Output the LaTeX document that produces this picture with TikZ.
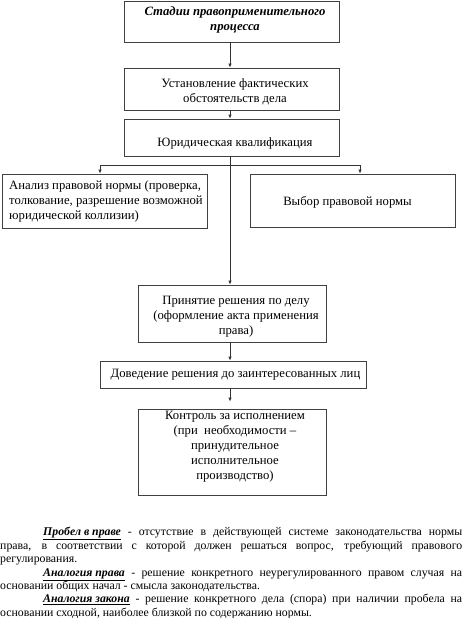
\documentclass[tikz,border=0pt]{standalone}
\usepackage{fontspec}
\setmainfont{Liberation Serif}
\usetikzlibrary{arrows.meta}
\begin{document}
\begin{tikzpicture}[x=1pt,y=-1pt,
  box/.style={draw=black!75, line width=0.8pt, inner sep=0pt, rectangle},
  btext/.style={inner sep=0pt, align=center, font=\fontsize{12.7}{15}\selectfont},
  arr/.style={draw=black!80, line width=0.8pt, -{Latex[length=4pt,width=3.5pt]}},
  ln/.style={draw=black!80, line width=0.8pt}]
\useasboundingbox (0,0) rectangle (462,618);
% boxes
\node[box, minimum width=215pt, minimum height=41pt] (b1) at (231.5,21.5) {};
\node[box, minimum width=215pt, minimum height=42pt] (b2) at (231.5,89) {};
\node[box, minimum width=215pt, minimum height=37pt] (b3) at (231.5,137.5) {};
\node[box, minimum width=205pt, minimum height=54pt] (bl) at (104.5,201) {};
\node[box, minimum width=205pt, minimum height=53pt] (br) at (352.5,200.5) {};
\node[box, minimum width=188pt, minimum height=57pt] (b4) at (232,313.5) {};
\node[box, minimum width=266pt, minimum height=27pt] (b5) at (233,374.5) {};
\node[box, minimum width=188pt, minimum height=86pt] (b6) at (232,452) {};
% texts
\node[btext, font=\fontsize{12.7}{15}\selectfont\bfseries\itshape] (t1) at (235,20) {Стадии правоприменительного\\процесса};
\node[btext] (t2) at (235,91.5) {Установление фактических\\обстоятельств дела};
\node[btext] (t3) at (235,143) {Юридическая квалификация};
\node[btext, align=left, anchor=west] (tl) at (9,201.5) {Анализ правовой нормы (проверка,\\толкование, разрешение возможной\\юридической коллизии)};
\node[btext] (tr) at (347.5,202) {Выбор правовой нормы};
\node[btext] (t4) at (236,316.5) {Принятие решения по делу\\(оформление акта применения\\права)};
\node[btext] (t5) at (235.5,375) {Доведение решения до заинтересованных лиц};
\node[btext] (t6) at (235,446.5) {Контроль за исполнением\\(при\ \ необходимости –\\принудительное\\исполнительное\\производство)};
% connectors
\coordinate (c0) at (230,165);
\coordinate (cl) at (100,165);
\coordinate (cr) at (360,165);
\draw[arr] (b1.south -| c0) -- (b2.north -| c0);
\draw[arr] (b2.south -| c0) -- (b3.north -| c0);
\draw[arr] (b3.south -| c0) -- (b4.north -| c0);
\draw[ln] (cl) -- (cr);
\draw[arr] (cl) -- (bl.north -| cl);
\draw[arr] (cr) -- (br.north -| cr);
\draw[arr] (b4.south -| c0) -- (b5.north -| c0);
\draw[arr, shorten >=7pt] (b5.south -| c0) -- (b6.north -| c0);
% notes
\node[inner sep=0pt, anchor=north west, text width=462pt, align=justify,
  font=\fontsize{11.8}{13.45}\selectfont] (notes) at (0,527) {%
\hspace*{43pt}\underline{\textbf{\textit{Пробел в праве}}} - отсутствие в действующей системе законодательства нормы\linebreak
права, в соответствии с которой должен решаться вопрос, требующий правового\linebreak
регулирования.\par
\hspace*{43pt}\underline{\textbf{\textit{Аналогия права}}} - решение конкретного неурегулированного правом случая на\linebreak
основании общих начал - смысла законодательства.\par
\hspace*{43pt}\underline{\textbf{\textit{Аналогия закона}}} - решение конкретного дела (спора) при наличии пробела на\linebreak
основании сходной, наиболее близкой по содержанию нормы.};
\end{tikzpicture}
\end{document}
